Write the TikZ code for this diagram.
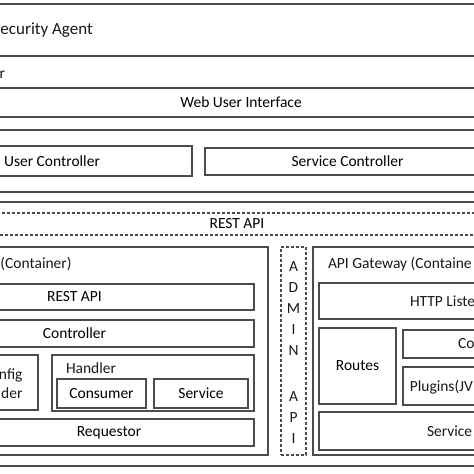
\documentclass[tikz,border=0pt]{standalone}
\usepackage{fontspec}
\setmainfont{Carlito}
\usepackage{tikz}
\usetikzlibrary{positioning}
\tikzstyle{blkNode} = [rectangle, draw=black!70, line width=1.2pt, inner sep=0pt, outer sep=0pt, text centered, font=\fontsize{15.5}{19}\selectfont]
\tikzstyle{dashNode} = [blkNode, dash pattern=on 3pt off 2pt]
\tikzstyle{eNode} = [inner sep=0pt, outer sep=0pt, text=black!90, font=\fontsize{15.5}{19}\selectfont]

\begin{document}
\begin{tikzpicture}[x=1pt, y=-1pt]
    \useasboundingbox (0,0) rectangle (474,474);
    % outer layers
    \node (agent) [blkNode, minimum width=534pt, minimum height=496pt] at (237,252) {};
    \node (mgr) [blkNode, minimum width=524pt, minimum height=439pt] at (237,275.5) {};
    \node (webui) [blkNode, minimum width=506pt, minimum height=29pt] at (241,102.5) {Web User Interface};
    \node (ctrlwrap) [blkNode, minimum width=514pt, minimum height=62pt] at (237,161) {};
    \node (userctrl) [blkNode, minimum width=280pt, minimum height=30pt] at (52,161) {User Controller};
    \node (svcctrl) [blkNode, minimum width=285pt, minimum height=27pt] at (347.5,161.5) {Service Controller};
    \node (core) [blkNode, minimum width=514pt, minimum height=264pt] at (237,334) {};
    \node (restapi) [dashNode, minimum width=514pt, minimum height=22pt] at (237,224) {REST API};
    \node (agentlbl) [eNode, anchor=west, font=\fontsize{17}{20}\selectfont] at (0.5,30) {ecurity Agent};
    \node (mgrlbl) [eNode, anchor=east] at (5,75) {r};

    % left container
    \node (leftcont) [blkNode, minimum width=298pt, minimum height=208pt] at (119,351) {};
    \node (leftlbl) [eNode, anchor=west] at (0.5,264) {(Container)};
    \node (lrest) [blkNode, minimum width=359pt, minimum height=26pt] at (74.5,297) {REST API};
    \node (lctrl) [blkNode, minimum width=359pt, minimum height=27pt] at (74.5,333.5) {Controller};
    \node (config) [blkNode, minimum width=74pt, minimum height=55pt] at (1,382.5) {};
    \node (configlbl) [eNode, anchor=east, align=right] at (22.5,383.5) {nfig\\der};
    \node (handler) [blkNode, minimum width=202pt, minimum height=56pt] at (153,383) {};
    \node (handlerlbl) [eNode, anchor=west] at (66,368) {Handler};
    \node (consumer) [blkNode, minimum width=89pt, minimum height=29pt] at (101.5,393.5) {Consumer};
    \node (service) [blkNode, minimum width=94pt, minimum height=29pt] at (201,393.5) {Service};
    \node (requestor) [blkNode, minimum width=290pt, minimum height=27pt] at (109,432.5) {Requestor};

    % admin api
    \node (admin) [dashNode, minimum width=25pt, minimum height=208pt] at (293.5,351) {};
    \node (adminlbl) [eNode, align=center, font=\fontsize{15.5}{21}\selectfont] at (293.5,353) {A\\D\\M\\I\\N\\[4pt] \\A\\P\\I};

    % api gateway
    \node (gateway) [blkNode, minimum width=207pt, minimum height=208pt] at (416.5,351) {};
    \node (gatewaylbl) [eNode, anchor=west] at (328,264) {API Gateway (Containe};
    \node (listener) [blkNode, minimum width=201pt, minimum height=36pt] at (419.5,301) {};
    \node (listenerlbl) [eNode, anchor=west] at (410,301) {HTTP Liste};
    \node (routes) [blkNode, minimum width=77pt, minimum height=76pt] at (357.5,366) {Routes};
    \node (cobox) [blkNode, minimum width=117pt, minimum height=28pt] at (461.5,344) {};
    \node (colbl) [eNode, anchor=west] at (458,344) {Co};
    \node (plugins) [blkNode, minimum width=117pt, minimum height=38pt] at (461.5,386) {};
    \node (pluginslbl) [eNode, anchor=east] at (473,387) {Plugins(JV};
    \node (gwservice) [blkNode, minimum width=201pt, minimum height=38pt] at (419.5,431) {};
    \node (gwservicelbl) [eNode, anchor=west] at (427,431) {Service};
\end{tikzpicture}
\end{document}
